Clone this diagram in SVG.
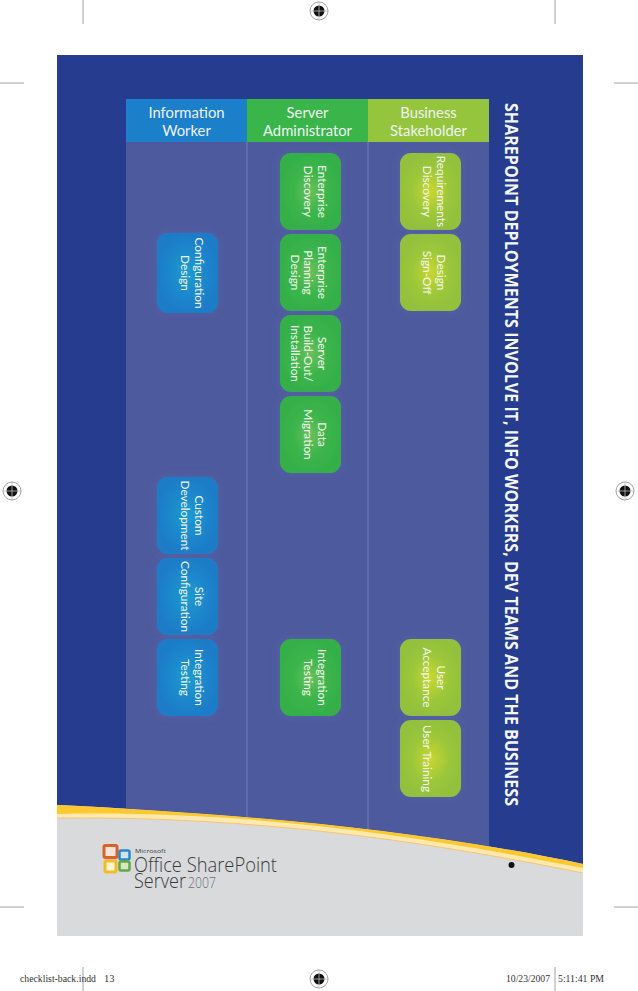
<svg xmlns="http://www.w3.org/2000/svg" xmlns:xlink="http://www.w3.org/1999/xlink" width="638" height="991" viewBox="0 0 638 991">
<style>
.n{font-family:Lato,"Open Sans","Liberation Sans",sans-serif;font-size:11.8px;fill:#f2f7ee;text-anchor:middle}
.h{font-family:Lato,"Open Sans","Liberation Sans",sans-serif;font-size:14.8px;fill:#eef3f2;text-anchor:middle}
.crop{stroke:#8a8a8a;stroke-width:.8;fill:none}
.foot{font-family:"Liberation Serif",serif;font-size:10.5px;fill:#333}
.logo{font-family:"Open Sans","Liberation Sans",sans-serif;fill:#3a3a3c}
.box{filter:url(#sh)}
</style>
<defs>
<radialGradient id="gb"><stop offset="0" stop-color="#1f9bcf"/><stop offset=".7" stop-color="#1c84cb"/><stop offset="1" stop-color="#1b7cc8"/></radialGradient>
<radialGradient id="gg"><stop offset="0" stop-color="#6cc05c"/><stop offset=".55" stop-color="#3bb54b"/><stop offset="1" stop-color="#35b04a"/></radialGradient>
<radialGradient id="gl"><stop offset="0" stop-color="#c9d72f"/><stop offset=".6" stop-color="#9cc73a"/><stop offset="1" stop-color="#93c13c"/></radialGradient>
<filter id="sh" x="-30%" y="-30%" width="160%" height="160%"><feGaussianBlur in="SourceAlpha" stdDeviation="5"/><feColorMatrix values="0 0 0 0 .12 0 0 0 0 .15 0 0 0 0 .4 0 0 0 .45 0"/><feMerge><feMergeNode/><feMergeNode in="SourceGraphic"/></feMerge></filter>
<clipPath id="above"><path d="M57,55H583V864C400,825 200,812 57,805Z"/></clipPath>
<g id="reg"><circle r="9" fill="#fff" stroke="#8a8a8a" stroke-width=".8"/><circle r="5.5" fill="#111"/><path d="M-9.5,0H9.5M0,-9.5V9.5" stroke="#bbb" stroke-width=".8"/></g>
</defs>
<rect width="638" height="991" fill="#fff"/>
<g id="marks">
<path class="crop" d="M83,0V24M555,0V24M0,83H24M614,83H638M0,907H24M614,907H638M83,967V991M555,967V991"/>
<use xlink:href="#reg" href="#reg" x="319" y="11"/>
<use xlink:href="#reg" href="#reg" x="12" y="491"/>
<use xlink:href="#reg" href="#reg" x="625" y="491"/>
<use xlink:href="#reg" href="#reg" x="319" y="979"/>
<text class="foot" x="20" y="982" textLength="76" lengthAdjust="spacingAndGlyphs">checklist-back.indd</text>
<text class="foot" x="104" y="982">13</text>
<text class="foot" x="506" y="982" textLength="44" lengthAdjust="spacingAndGlyphs">10/23/2007</text>
<text class="foot" x="558" y="982" textLength="46" lengthAdjust="spacingAndGlyphs">5:11:41 PM</text>
</g>
<g id="page">
<rect x="57" y="55" width="526" height="881" fill="#d9dadc"/>
<g clip-path="url(#above)">
<rect x="57" y="55" width="526" height="820" fill="#263c8e"/>
<rect x="126" y="99" width="363" height="780" fill="#4d5a9e"/>
<path d="M247,142V830M368,142V840" stroke="#7480b8" stroke-width="1" fill="none"/>
</g>
<path d="M57,805C200,812 400,825 583,864V873C420,840 250,816 57,818Z" fill="#fbc82f"/>
<path d="M57,814C250,810 420,836 583,868V873C420,840 250,816 57,818Z" fill="#fde9b0"/>
<path d="M57,818C250,816 420,840 583,873" fill="none" stroke="#f3c67a" stroke-width="1"/>
</g>
<g id="header-information-worker"><rect x="126" y="99" width="121" height="43" fill="#1c7fc9"/><text class="h" x="186.5" y="118">Information</text><text class="h" x="186.5" y="136">Worker</text></g>
<g id="header-server-administrator"><rect x="247" y="99" width="121" height="43" fill="#39b54a"/><text class="h" x="307.5" y="118">Server</text><text class="h" x="307.5" y="136">Administrator</text></g>
<g id="header-business-stakeholder"><rect x="368" y="99" width="121" height="43" fill="#95c43d"/><text class="h" x="428.5" y="118">Business</text><text class="h" x="428.5" y="136">Stakeholder</text></g>
<g id="title"><text transform="translate(505,103) rotate(90)" textLength="703" lengthAdjust="spacingAndGlyphs" style="font-family:'Open Sans','Noto Sans',sans-serif;font-size:17px;font-weight:700;fill:#f4f6fa">SHAREPOINT DEPLOYMENTS INVOLVE IT, INFO WORKERS, DEV TEAMS AND THE BUSINESS</text></g>

<g id="n-config-design"><rect class="box" x="157" y="233" width="61" height="80" rx="11" fill="url(#gb)"/><text class="n" transform="translate(195,273) rotate(90)">Configuration</text><text class="n" transform="translate(181,273) rotate(90)">Design</text></g>
<g id="n-custom-dev"><rect class="box" x="157" y="477" width="61" height="77" rx="11" fill="url(#gb)"/><text class="n" transform="translate(195,515.5) rotate(90)">Custom</text><text class="n" transform="translate(181,515.5) rotate(90)">Development</text></g>
<g id="n-site-config"><rect class="box" x="157" y="558" width="61" height="77" rx="11" fill="url(#gb)"/><text class="n" transform="translate(195,596.5) rotate(90)">Site</text><text class="n" transform="translate(181,596.5) rotate(90)">Configuration</text></g>
<g id="n-integration-iw"><rect class="box" x="157" y="639" width="61" height="77" rx="11" fill="url(#gb)"/><text class="n" transform="translate(195,677.5) rotate(90)">Integration</text><text class="n" transform="translate(181,677.5) rotate(90)">Testing</text></g>

<g id="n-ent-discovery"><rect class="box" x="280" y="153" width="61" height="77" rx="11" fill="url(#gg)"/><text class="n" transform="translate(318,191.5) rotate(90)">Enterprise</text><text class="n" transform="translate(304,191.5) rotate(90)">Discovery</text></g>
<g id="n-ent-planning"><rect class="box" x="280" y="234" width="61" height="77" rx="11" fill="url(#gg)"/><text class="n" transform="translate(318,272.5) rotate(90)">Enterprise</text><text class="n" transform="translate(304,272.5) rotate(90)">Planning</text><text class="n" transform="translate(290.5,272.5) rotate(90)">Design</text></g>
<g id="n-server-build"><rect class="box" x="280" y="315" width="61" height="77" rx="11" fill="url(#gg)"/><text class="n" transform="translate(318,353.5) rotate(90)">Server</text><text class="n" transform="translate(304,353.5) rotate(90)">Build-Out/</text><text class="n" transform="translate(290.5,353.5) rotate(90)">Installation</text></g>
<g id="n-data-migration"><rect class="box" x="280" y="396" width="61" height="77" rx="11" fill="url(#gg)"/><text class="n" transform="translate(318,434.5) rotate(90)">Data</text><text class="n" transform="translate(304,434.5) rotate(90)">Migration</text></g>
<g id="n-integration-sa"><rect class="box" x="280" y="639" width="61" height="77" rx="11" fill="url(#gg)"/><text class="n" transform="translate(318,677.5) rotate(90)">Integration</text><text class="n" transform="translate(304,677.5) rotate(90)">Testing</text></g>

<g id="n-req-discovery"><rect class="box" x="400" y="153" width="61" height="77" rx="11" fill="url(#gl)"/><text class="n" transform="translate(437,191.5) rotate(90)">Requirements</text><text class="n" transform="translate(423,191.5) rotate(90)">Discovery</text></g>
<g id="n-design-signoff"><rect class="box" x="400" y="234" width="61" height="77" rx="11" fill="url(#gl)"/><text class="n" transform="translate(437,272.5) rotate(90)">Design</text><text class="n" transform="translate(423,272.5) rotate(90)">Sign-Off</text></g>
<g id="n-user-acceptance"><rect class="box" x="400" y="639" width="61" height="77" rx="11" fill="url(#gl)"/><text class="n" transform="translate(437,677.5) rotate(90)">User</text><text class="n" transform="translate(423,677.5) rotate(90)">Acceptance</text></g>
<g id="n-user-training"><rect class="box" x="400" y="720" width="61" height="77" rx="11" fill="url(#gl)"/><text class="n" transform="translate(423,758.5) rotate(90)">User Training</text></g>

<g id="logo">
<rect x="104" y="845.5" width="13" height="12" rx="1.5" fill="#f3e5dc" stroke="#d9622b" stroke-width="3"/>
<rect x="119.5" y="850.5" width="10" height="9" rx="1.5" fill="#cfe3f2" stroke="#2f86c6" stroke-width="2.5"/>
<rect x="105" y="861" width="11" height="11" rx="1.5" fill="#fff6cf" stroke="#f2bb2c" stroke-width="3"/>
<rect x="119.5" y="861.5" width="10" height="9" rx="1.5" fill="#d6e8c8" stroke="#63a844" stroke-width="2.5"/>
<text class="logo" x="135" y="853" font-size="5.5" textLength="31" lengthAdjust="spacingAndGlyphs">Microsoft</text>
<text class="logo" x="134" y="872" font-size="20" textLength="143" lengthAdjust="spacingAndGlyphs" style="font-weight:300">Office SharePoint</text>
<text class="logo" x="134" y="888" font-size="20" textLength="52" lengthAdjust="spacingAndGlyphs" style="font-weight:300">Server</text>
<text class="logo" x="188" y="888" font-size="15" textLength="28" lengthAdjust="spacingAndGlyphs" style="fill:#6d6e70;font-weight:300">2007</text>
</g>
<circle id="bullet" cx="511.5" cy="865" r="3" fill="#111"/>
</svg>
